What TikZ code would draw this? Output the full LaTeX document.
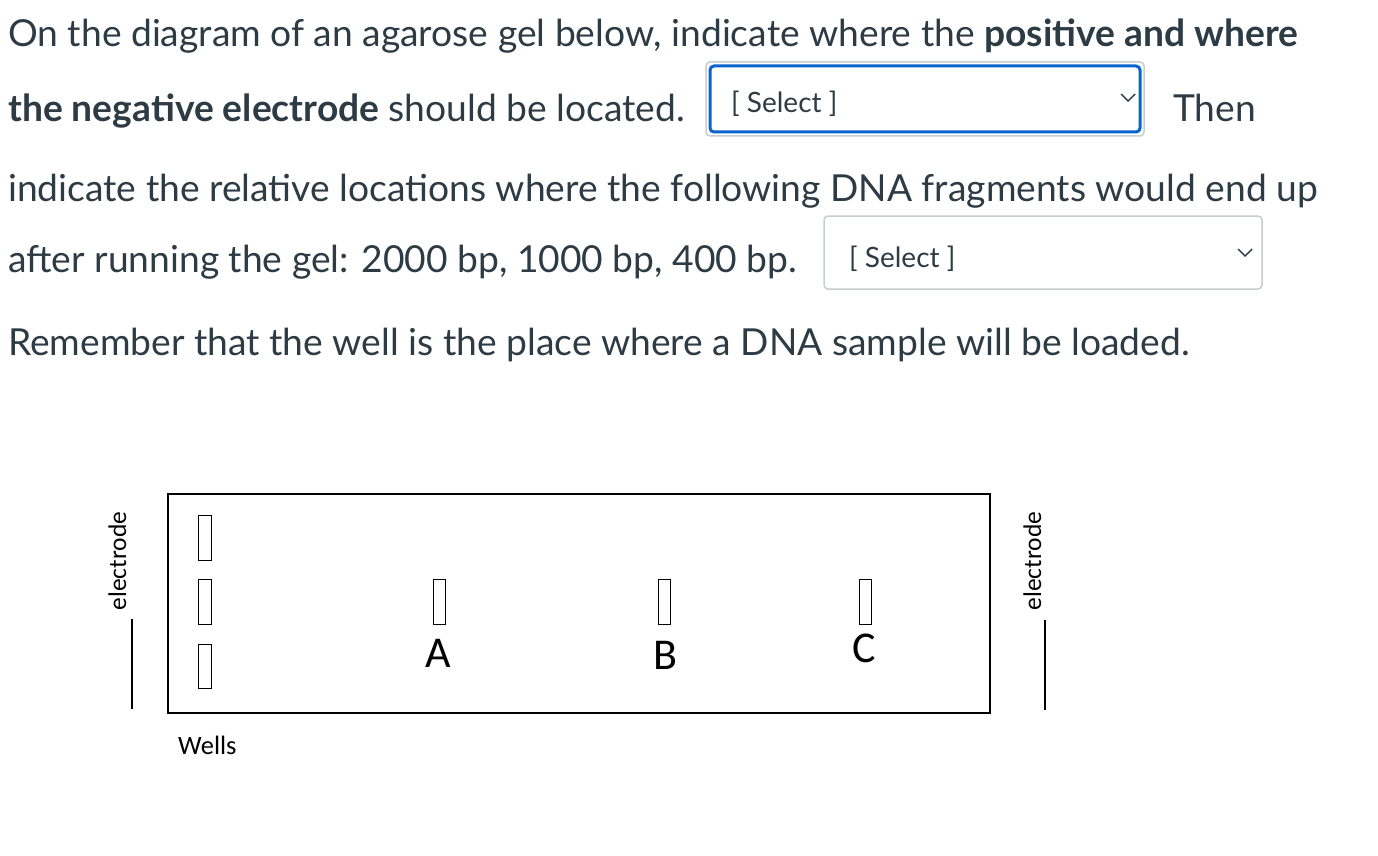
\documentclass[tikz,border=0pt]{standalone}
\usepackage{fontspec}
\setmainfont{Lato}
\newfontfamily\calfont{Carlito}
\definecolor{txt}{HTML}{2D3B45}
\definecolor{selblue}{HTML}{0B63CE}
\definecolor{selgray}{HTML}{C7CDD1}
\begin{document}
\begin{tikzpicture}[x=1pt,y=-1pt,
  body/.style={inner sep=0pt,anchor=base west,text=txt,font=\fontsize{37.2}{44}\selectfont},
  seltext/.style={inner sep=0pt,anchor=base west,text=txt,font=\fontsize{28}{32}\selectfont},
  selbox/.style={draw=selgray,line width=1.5pt,rounded corners=4pt},
  focusbox/.style={draw=selblue,line width=3pt,rounded corners=4pt},
  chev/.style={draw=txt,line width=1.4pt},
  gelline/.style={draw=black,line width=1.2pt},
  well/.style={draw=black,line width=1pt},
  cal/.style={inner sep=0pt,text=black,font=\calfont\fontsize{25.5}{30}\selectfont},
  lane/.style={inner sep=0pt,text=black,font=\calfont\fontsize{44}{50}\selectfont},
  electrodeline/.style={draw=black,line width=1.6pt}]
\useasboundingbox[fill=white] (0,0) rectangle (1378,856);
% text
\node[body] (l1) at (8,47) {On the diagram of an agarose gel below, indicate where the \textbf{positive and where}};
\node[body] (l2) at (8,122) {\textbf{the negative electrode} should be located.};
\node[body] (then) at (1173,122) {Then};
\node[body] (l3) at (8,201) {indicate the relative locations where the following DNA fragments would end up};
\node[body] (l4) at (8,272) {after running the gel: 2000 bp, 1000 bp, 400 bp.};
\node[body] (l5) at (8,355) {Remember that the well is the place where a DNA sample will be loaded.};
% dropdown 1
\draw[selbox] (706,62) rectangle (1144,136);
\draw[focusbox] (710,66) rectangle (1140,132);
\node[seltext] (s1) at (731,113) {[ Select ]};
\coordinate (c1a) at (1121,94);
\coordinate (c1b) at (1128,101);
\coordinate (c1c) at (1135,94);
\draw[chev] (c1a) -- (c1b) -- (c1c);
% dropdown 2
\draw[selbox] (824,216) rectangle (1262,289);
\node[seltext] (s2) at (849,267) {[ Select ]};
\coordinate (c2a) at (1238,249);
\coordinate (c2b) at (1245,256);
\coordinate (c2c) at (1252,249);
\draw[chev] (c2a) -- (c2b) -- (c2c);
% gel
\draw[gelline] (168,494) rectangle (990,713);
\draw[well] (198,515) rectangle (211,560);
\draw[well] (198,579) rectangle (211,624);
\draw[well] (198,644) rectangle (211,688);
\draw[well] (433,579) rectangle (445,624);
\draw[well] (658,579) rectangle (670,624);
\draw[well] (859,579) rectangle (871,624);
\node[lane,anchor=base] (A) at (438.5,667) {A};
\node[lane,anchor=base] (B) at (665,669) {B};
\node[lane,anchor=base] (C) at (864,662) {C};
\node[cal,anchor=base west,font=\calfont\fontsize{26.5}{30}\selectfont] (wells) at (178,754) {Wells};
% electrodes
\node[cal,rotate=90,anchor=base] (e1) at (126,561) {electrode};
\node[cal,rotate=90,anchor=base] (e2) at (1041,561) {electrode};
\coordinate (el1a) at (132,619);
\coordinate (el1b) at (132,709);
\coordinate (el2a) at (1045,620);
\coordinate (el2b) at (1045,710);
\draw[electrodeline] (el1a) -- (el1b);
\draw[electrodeline] (el2a) -- (el2b);
\end{tikzpicture}
\end{document}
